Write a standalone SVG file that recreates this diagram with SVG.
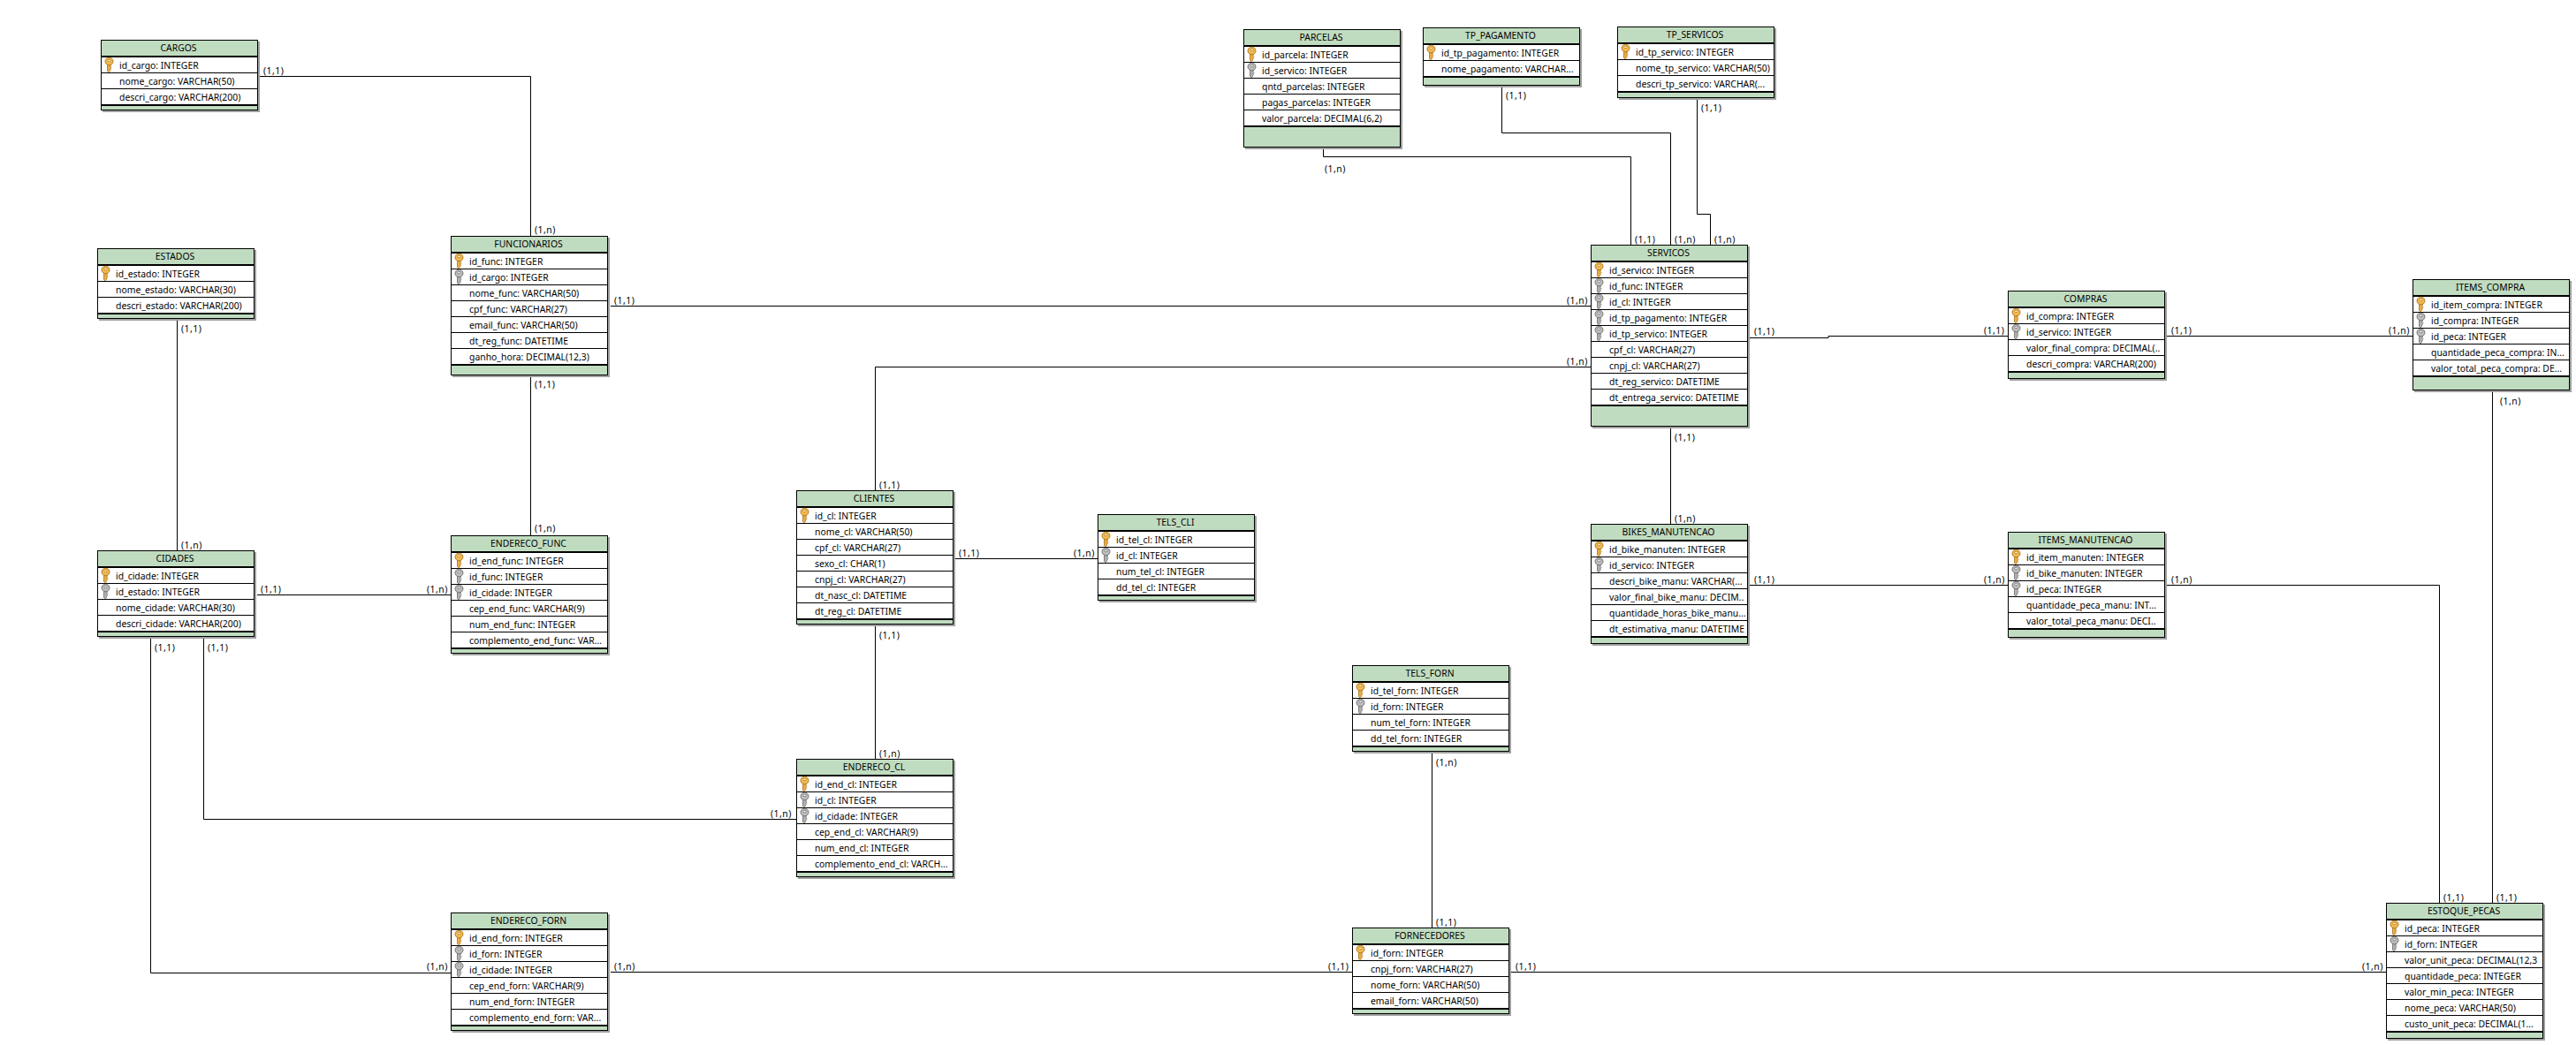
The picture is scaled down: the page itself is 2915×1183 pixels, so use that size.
<svg xmlns="http://www.w3.org/2000/svg" width="2915" height="1183" viewBox="0 0 2915 1183">
<style>
text{font-family:"Noto Sans","Liberation Sans",sans-serif;font-size:10.4px;fill:#000}
#labels text{letter-spacing:.5px}
.h{text-anchor:middle}
.r{clip-path:url(#c)}
.s{fill:#a0a0a0}
.b{fill:#fff;stroke:#000}
.g{fill:#c0dcc0;stroke:#000}
.t{stroke:#000;stroke-width:2;fill:none}
.d{stroke:#000;stroke-width:1;fill:none}
#connectors path{fill:none;stroke:#000;stroke-width:1}
</style>
<defs>
<clipPath id="c"><rect x="0" y="0" width="176" height="300"/></clipPath>
<g id="pk"><path transform="translate(1,0)" d="M2.500 7.500h4l-.5 3 1 1-1 1 .5 1-1 1v1l-1 1h-1l-1-1z" fill="#e8ac48" stroke="#a87418" stroke-width=".8"/><ellipse cx="5.500" cy="4.500" rx="4.500" ry="4.300" fill="#f2b850" stroke="#a87418" stroke-width=".9"/><ellipse cx="5.500" cy="3.400" rx="2" ry="1.200" fill="#fff0c8" stroke="#a87418" stroke-width=".7"/></g>
<g id="fk"><path transform="translate(1,0)" d="M2.500 7.500h4l-.5 3 1 1-1 1 .5 1-1 1v1l-1 1h-1l-1-1z" fill="#b0b0b0" stroke="#6a6a6a" stroke-width=".8"/><ellipse cx="5.500" cy="4.500" rx="4.500" ry="4.300" fill="#bcbcbc" stroke="#6a6a6a" stroke-width=".9"/><ellipse cx="5.500" cy="3.400" rx="2" ry="1.200" fill="#eeeeee" stroke="#6a6a6a" stroke-width=".7"/></g>
</defs>
<rect width="2915" height="1183" fill="#fff"/>
<g id="connectors">
<path d="M293 86.500H600.500V267"/>
<path d="M600.500 426V606"/>
<path d="M200.500 362V623"/>
<path d="M291 673.500H510"/>
<path d="M170.500 723V1101.500H510"/>
<path d="M230.500 723V927.500H901"/>
<path d="M691 346.500H1800"/>
<path d="M1800 415.500H990.500V555"/>
<path d="M990.500 709V859"/>
<path d="M1080 632.500H1242"/>
<path d="M1497.500 168V177.500H1845.500V277"/>
<path d="M1699.500 98V150.500H1890.500V277"/>
<path d="M1920.500 112V242.500H1935.500V277"/>
<path d="M1890.500 485V593"/>
<path d="M1980 382.500H2069V380.500H2272"/>
<path d="M2452 380.500H2730"/>
<path d="M1980 662.500H2272"/>
<path d="M2452 662.500H2760.500V1022"/>
<path d="M2820.500 444V1022"/>
<path d="M1620.500 853V1050"/>
<path d="M691 1100.500H1530"/>
<path d="M1710 1100.500H2700"/>
</g>
<g id="labels">
<text x="298" y="84">(1,1)</text>
<text x="605" y="264">(1,n)</text>
<text x="605" y="439">(1,1)</text>
<text x="605" y="602">(1,n)</text>
<text x="205" y="376">(1,1)</text>
<text x="205" y="621">(1,n)</text>
<text x="295" y="671">(1,1)</text>
<text x="483" y="671">(1,n)</text>
<text x="175" y="737">(1,1)</text>
<text x="235" y="737">(1,1)</text>
<text x="483" y="1098">(1,n)</text>
<text x="695" y="1098">(1,n)</text>
<text x="695" y="344">(1,1)</text>
<text x="1773" y="344">(1,n)</text>
<text x="1773" y="413">(1,n)</text>
<text x="995" y="553">(1,1)</text>
<text x="995" y="723">(1,1)</text>
<text x="995" y="857">(1,n)</text>
<text x="872" y="925">(1,n)</text>
<text x="1085" y="630">(1,1)</text>
<text x="1215" y="630">(1,n)</text>
<text x="1499" y="195">(1,n)</text>
<text x="1704" y="112">(1,1)</text>
<text x="1925" y="126">(1,1)</text>
<text x="1850" y="275">(1,1)</text>
<text x="1895" y="275">(1,n)</text>
<text x="1940" y="275">(1,n)</text>
<text x="1985" y="379">(1,1)</text>
<text x="2245" y="378">(1,1)</text>
<text x="2457" y="378">(1,1)</text>
<text x="2703" y="378">(1,n)</text>
<text x="2829" y="458">(1,n)</text>
<text x="1895" y="499">(1,1)</text>
<text x="1895" y="591">(1,n)</text>
<text x="1985" y="660">(1,1)</text>
<text x="2245" y="660">(1,n)</text>
<text x="2457" y="660">(1,n)</text>
<text x="1625" y="867">(1,n)</text>
<text x="1625" y="1048">(1,1)</text>
<text x="1503" y="1098">(1,1)</text>
<text x="1715" y="1098">(1,1)</text>
<text x="2673" y="1098">(1,n)</text>
<text x="2765" y="1020">(1,1)</text>
<text x="2825" y="1020">(1,1)</text>
</g>
<g id="CARGOS" transform="translate(114,45)"><rect class="s" x="2" y="2" width="178" height="80"/><rect class="b" x=".5" y=".5" width="177" height="79"/><rect class="g" x=".5" y=".5" width="177" height="18"/><rect class="g" x=".5" y="73.500" width="177" height="6"/><path class="t" d="M0 19H178M0 74H178"/><path class="d" d="M0 37.500H178M0 55.500H178"/><text class="h" x="88" y="13">CARGOS</text><use href="#pk" x="4" y="20"/><text class="r" x="21" y="33">id_cargo: INTEGER</text><text class="r" x="21" y="51">nome_cargo: VARCHAR(50)</text><text class="r" x="21" y="69">descri_cargo: VARCHAR(200)</text></g>
<g id="ESTADOS" transform="translate(110,281)"><rect class="s" x="2" y="2" width="178" height="80"/><rect class="b" x=".5" y=".5" width="177" height="79"/><rect class="g" x=".5" y=".5" width="177" height="18"/><rect class="g" x=".5" y="73.500" width="177" height="6"/><path class="t" d="M0 19H178M0 74H178"/><path class="d" d="M0 37.500H178M0 55.500H178"/><text class="h" x="88" y="13">ESTADOS</text><use href="#pk" x="4" y="20"/><text class="r" x="21" y="33">id_estado: INTEGER</text><text class="r" x="21" y="51">nome_estado: VARCHAR(30)</text><text class="r" x="21" y="69">descri_estado: VARCHAR(200)</text></g>
<g id="CIDADES" transform="translate(110,623)"><rect class="s" x="2" y="2" width="178" height="98"/><rect class="b" x=".5" y=".5" width="177" height="97"/><rect class="g" x=".5" y=".5" width="177" height="18"/><rect class="g" x=".5" y="91.500" width="177" height="6"/><path class="t" d="M0 19H178M0 92H178"/><path class="d" d="M0 37.500H178M0 55.500H178M0 73.500H178"/><text class="h" x="88" y="13">CIDADES</text><use href="#pk" x="4" y="20"/><use href="#fk" x="4" y="38"/><text class="r" x="21" y="33">id_cidade: INTEGER</text><text class="r" x="21" y="51">id_estado: INTEGER</text><text class="r" x="21" y="69">nome_cidade: VARCHAR(30)</text><text class="r" x="21" y="87">descri_cidade: VARCHAR(200)</text></g>
<g id="FUNCIONARIOS" transform="translate(510,267)"><rect class="s" x="2" y="2" width="178" height="158"/><rect class="b" x=".5" y=".5" width="177" height="157"/><rect class="g" x=".5" y=".5" width="177" height="18"/><rect class="g" x=".5" y="145.500" width="177" height="12"/><path class="t" d="M0 19H178M0 146H178"/><path class="d" d="M0 37.500H178M0 55.500H178M0 73.500H178M0 91.500H178M0 109.500H178M0 127.500H178"/><text class="h" x="88" y="13">FUNCIONARIOS</text><use href="#pk" x="4" y="20"/><use href="#fk" x="4" y="38"/><text class="r" x="21" y="33">id_func: INTEGER</text><text class="r" x="21" y="51">id_cargo: INTEGER</text><text class="r" x="21" y="69">nome_func: VARCHAR(50)</text><text class="r" x="21" y="87">cpf_func: VARCHAR(27)</text><text class="r" x="21" y="105">email_func: VARCHAR(50)</text><text class="r" x="21" y="123">dt_reg_func: DATETIME</text><text class="r" x="21" y="141">ganho_hora: DECIMAL(12,3)</text></g>
<g id="ENDERECO_FUNC" transform="translate(510,606)"><rect class="s" x="2" y="2" width="178" height="134"/><rect class="b" x=".5" y=".5" width="177" height="133"/><rect class="g" x=".5" y=".5" width="177" height="18"/><rect class="g" x=".5" y="127.500" width="177" height="6"/><path class="t" d="M0 19H178M0 128H178"/><path class="d" d="M0 37.500H178M0 55.500H178M0 73.500H178M0 91.500H178M0 109.500H178"/><text class="h" x="88" y="13">ENDERECO_FUNC</text><use href="#pk" x="4" y="20"/><use href="#fk" x="4" y="38"/><use href="#fk" x="4" y="56"/><text class="r" x="21" y="33">id_end_func: INTEGER</text><text class="r" x="21" y="51">id_func: INTEGER</text><text class="r" x="21" y="69">id_cidade: INTEGER</text><text class="r" x="21" y="87">cep_end_func: VARCHAR(9)</text><text class="r" x="21" y="105">num_end_func: INTEGER</text><text class="r" x="21" y="123">complemento_end_func: VAR...</text></g>
<g id="ENDERECO_FORN" transform="translate(510,1033)"><rect class="s" x="2" y="2" width="178" height="134"/><rect class="b" x=".5" y=".5" width="177" height="133"/><rect class="g" x=".5" y=".5" width="177" height="18"/><rect class="g" x=".5" y="127.500" width="177" height="6"/><path class="t" d="M0 19H178M0 128H178"/><path class="d" d="M0 37.500H178M0 55.500H178M0 73.500H178M0 91.500H178M0 109.500H178"/><text class="h" x="88" y="13">ENDERECO_FORN</text><use href="#pk" x="4" y="20"/><use href="#fk" x="4" y="38"/><use href="#fk" x="4" y="56"/><text class="r" x="21" y="33">id_end_forn: INTEGER</text><text class="r" x="21" y="51">id_forn: INTEGER</text><text class="r" x="21" y="69">id_cidade: INTEGER</text><text class="r" x="21" y="87">cep_end_forn: VARCHAR(9)</text><text class="r" x="21" y="105">num_end_forn: INTEGER</text><text class="r" x="21" y="123">complemento_end_forn: VAR...</text></g>
<g id="CLIENTES" transform="translate(901,555)"><rect class="s" x="2" y="2" width="178" height="152"/><rect class="b" x=".5" y=".5" width="177" height="151"/><rect class="g" x=".5" y=".5" width="177" height="18"/><rect class="g" x=".5" y="145.500" width="177" height="6"/><path class="t" d="M0 19H178M0 146H178"/><path class="d" d="M0 37.500H178M0 55.500H178M0 73.500H178M0 91.500H178M0 109.500H178M0 127.500H178"/><text class="h" x="88" y="13">CLIENTES</text><use href="#pk" x="4" y="20"/><text class="r" x="21" y="33">id_cl: INTEGER</text><text class="r" x="21" y="51">nome_cl: VARCHAR(50)</text><text class="r" x="21" y="69">cpf_cl: VARCHAR(27)</text><text class="r" x="21" y="87">sexo_cl: CHAR(1)</text><text class="r" x="21" y="105">cnpj_cl: VARCHAR(27)</text><text class="r" x="21" y="123">dt_nasc_cl: DATETIME</text><text class="r" x="21" y="141">dt_reg_cl: DATETIME</text></g>
<g id="ENDERECO_CL" transform="translate(901,859)"><rect class="s" x="2" y="2" width="178" height="134"/><rect class="b" x=".5" y=".5" width="177" height="133"/><rect class="g" x=".5" y=".5" width="177" height="18"/><rect class="g" x=".5" y="127.500" width="177" height="6"/><path class="t" d="M0 19H178M0 128H178"/><path class="d" d="M0 37.500H178M0 55.500H178M0 73.500H178M0 91.500H178M0 109.500H178"/><text class="h" x="88" y="13">ENDERECO_CL</text><use href="#pk" x="4" y="20"/><use href="#fk" x="4" y="38"/><use href="#fk" x="4" y="56"/><text class="r" x="21" y="33">id_end_cl: INTEGER</text><text class="r" x="21" y="51">id_cl: INTEGER</text><text class="r" x="21" y="69">id_cidade: INTEGER</text><text class="r" x="21" y="87">cep_end_cl: VARCHAR(9)</text><text class="r" x="21" y="105">num_end_cl: INTEGER</text><text class="r" x="21" y="123">complemento_end_cl: VARCH...</text></g>
<g id="TELS_CLI" transform="translate(1242,582)"><rect class="s" x="2" y="2" width="178" height="98"/><rect class="b" x=".5" y=".5" width="177" height="97"/><rect class="g" x=".5" y=".5" width="177" height="18"/><rect class="g" x=".5" y="91.500" width="177" height="6"/><path class="t" d="M0 19H178M0 92H178"/><path class="d" d="M0 37.500H178M0 55.500H178M0 73.500H178"/><text class="h" x="88" y="13">TELS_CLI</text><use href="#pk" x="4" y="20"/><use href="#fk" x="4" y="38"/><text class="r" x="21" y="33">id_tel_cl: INTEGER</text><text class="r" x="21" y="51">id_cl: INTEGER</text><text class="r" x="21" y="69">num_tel_cl: INTEGER</text><text class="r" x="21" y="87">dd_tel_cl: INTEGER</text></g>
<g id="PARCELAS" transform="translate(1407,33)"><rect class="s" x="2" y="2" width="178" height="134"/><rect class="b" x=".5" y=".5" width="177" height="133"/><rect class="g" x=".5" y=".5" width="177" height="18"/><rect class="g" x=".5" y="109.500" width="177" height="24"/><path class="t" d="M0 19H178M0 110H178"/><path class="d" d="M0 37.500H178M0 55.500H178M0 73.500H178M0 91.500H178"/><text class="h" x="88" y="13">PARCELAS</text><use href="#pk" x="4" y="20"/><use href="#fk" x="4" y="38"/><text class="r" x="21" y="33">id_parcela: INTEGER</text><text class="r" x="21" y="51">id_servico: INTEGER</text><text class="r" x="21" y="69">qntd_parcelas: INTEGER</text><text class="r" x="21" y="87">pagas_parcelas: INTEGER</text><text class="r" x="21" y="105">valor_parcela: DECIMAL(6,2)</text></g>
<g id="TP_PAGAMENTO" transform="translate(1610,31)"><rect class="s" x="2" y="2" width="178" height="66"/><rect class="b" x=".5" y=".5" width="177" height="65"/><rect class="g" x=".5" y=".5" width="177" height="18"/><rect class="g" x=".5" y="55.500" width="177" height="10"/><path class="t" d="M0 19H178M0 56H178"/><path class="d" d="M0 37.500H178"/><text class="h" x="88" y="13">TP_PAGAMENTO</text><use href="#pk" x="4" y="20"/><text class="r" x="21" y="33">id_tp_pagamento: INTEGER</text><text class="r" x="21" y="51">nome_pagamento: VARCHAR...</text></g>
<g id="TP_SERVICOS" transform="translate(1830,30)"><rect class="s" x="2" y="2" width="178" height="81"/><rect class="b" x=".5" y=".5" width="177" height="80"/><rect class="g" x=".5" y=".5" width="177" height="18"/><rect class="g" x=".5" y="73.500" width="177" height="7"/><path class="t" d="M0 19H178M0 74H178"/><path class="d" d="M0 37.500H178M0 55.500H178"/><text class="h" x="88" y="13">TP_SERVICOS</text><use href="#pk" x="4" y="20"/><text class="r" x="21" y="33">id_tp_servico: INTEGER</text><text class="r" x="21" y="51">nome_tp_servico: VARCHAR(50)</text><text class="r" x="21" y="69">descri_tp_servico: VARCHAR(...</text></g>
<g id="SERVICOS" transform="translate(1800,277)"><rect class="s" x="2" y="2" width="178" height="206"/><rect class="b" x=".5" y=".5" width="177" height="205"/><rect class="g" x=".5" y=".5" width="177" height="18"/><rect class="g" x=".5" y="181.500" width="177" height="24"/><path class="t" d="M0 19H178M0 182H178"/><path class="d" d="M0 37.500H178M0 55.500H178M0 73.500H178M0 91.500H178M0 109.500H178M0 127.500H178M0 145.500H178M0 163.500H178"/><text class="h" x="88" y="13">SERVICOS</text><use href="#pk" x="4" y="20"/><use href="#fk" x="4" y="38"/><use href="#fk" x="4" y="56"/><use href="#fk" x="4" y="74"/><use href="#fk" x="4" y="92"/><text class="r" x="21" y="33">id_servico: INTEGER</text><text class="r" x="21" y="51">id_func: INTEGER</text><text class="r" x="21" y="69">id_cl: INTEGER</text><text class="r" x="21" y="87">id_tp_pagamento: INTEGER</text><text class="r" x="21" y="105">id_tp_servico: INTEGER</text><text class="r" x="21" y="123">cpf_cl: VARCHAR(27)</text><text class="r" x="21" y="141">cnpj_cl: VARCHAR(27)</text><text class="r" x="21" y="159">dt_reg_servico: DATETIME</text><text class="r" x="21" y="177">dt_entrega_servico: DATETIME</text></g>
<g id="BIKES_MANUTENCAO" transform="translate(1800,593)"><rect class="s" x="2" y="2" width="178" height="136"/><rect class="b" x=".5" y=".5" width="177" height="135"/><rect class="g" x=".5" y=".5" width="177" height="18"/><rect class="g" x=".5" y="127.500" width="177" height="8"/><path class="t" d="M0 19H178M0 128H178"/><path class="d" d="M0 37.500H178M0 55.500H178M0 73.500H178M0 91.500H178M0 109.500H178"/><text class="h" x="88" y="13">BIKES_MANUTENCAO</text><use href="#pk" x="4" y="20"/><use href="#fk" x="4" y="38"/><text class="r" x="21" y="33">id_bike_manuten: INTEGER</text><text class="r" x="21" y="51">id_servico: INTEGER</text><text class="r" x="21" y="69">descri_bike_manu: VARCHAR(...</text><text class="r" x="21" y="87">valor_final_bike_manu: DECIM..</text><text class="r" x="21" y="105">quantidade_horas_bike_manu...</text><text class="r" x="21" y="123">dt_estimativa_manu: DATETIME</text></g>
<g id="COMPRAS" transform="translate(2272,329)"><rect class="s" x="2" y="2" width="178" height="100"/><rect class="b" x=".5" y=".5" width="177" height="99"/><rect class="g" x=".5" y=".5" width="177" height="18"/><rect class="g" x=".5" y="91.500" width="177" height="8"/><path class="t" d="M0 19H178M0 92H178"/><path class="d" d="M0 37.500H178M0 55.500H178M0 73.500H178"/><text class="h" x="88" y="13">COMPRAS</text><use href="#pk" x="4" y="20"/><use href="#fk" x="4" y="38"/><text class="r" x="21" y="33">id_compra: INTEGER</text><text class="r" x="21" y="51">id_servico: INTEGER</text><text class="r" x="21" y="69">valor_final_compra: DECIMAL(..</text><text class="r" x="21" y="87">descri_compra: VARCHAR(200)</text></g>
<g id="ITEMS_MANUTENCAO" transform="translate(2272,602)"><rect class="s" x="2" y="2" width="178" height="120"/><rect class="b" x=".5" y=".5" width="177" height="119"/><rect class="g" x=".5" y=".5" width="177" height="18"/><rect class="g" x=".5" y="109.500" width="177" height="10"/><path class="t" d="M0 19H178M0 110H178"/><path class="d" d="M0 37.500H178M0 55.500H178M0 73.500H178M0 91.500H178"/><text class="h" x="88" y="13">ITEMS_MANUTENCAO</text><use href="#pk" x="4" y="20"/><use href="#fk" x="4" y="38"/><use href="#fk" x="4" y="56"/><text class="r" x="21" y="33">id_item_manuten: INTEGER</text><text class="r" x="21" y="51">id_bike_manuten: INTEGER</text><text class="r" x="21" y="69">id_peca: INTEGER</text><text class="r" x="21" y="87">quantidade_peca_manu: INT...</text><text class="r" x="21" y="105">valor_total_peca_manu: DECI..</text></g>
<g id="ITEMS_COMPRA" transform="translate(2730,316)"><rect class="s" x="2" y="2" width="178" height="126"/><rect class="b" x=".5" y=".5" width="177" height="125"/><rect class="g" x=".5" y=".5" width="177" height="18"/><rect class="g" x=".5" y="109.500" width="177" height="16"/><path class="t" d="M0 19H178M0 110H178"/><path class="d" d="M0 37.500H178M0 55.500H178M0 73.500H178M0 91.500H178"/><text class="h" x="88" y="13">ITEMS_COMPRA</text><use href="#pk" x="4" y="20"/><use href="#fk" x="4" y="38"/><use href="#fk" x="4" y="56"/><text class="r" x="21" y="33">id_item_compra: INTEGER</text><text class="r" x="21" y="51">id_compra: INTEGER</text><text class="r" x="21" y="69">id_peca: INTEGER</text><text class="r" x="21" y="87">quantidade_peca_compra: IN...</text><text class="r" x="21" y="105">valor_total_peca_compra: DE...</text></g>
<g id="TELS_FORN" transform="translate(1530,753)"><rect class="s" x="2" y="2" width="178" height="98"/><rect class="b" x=".5" y=".5" width="177" height="97"/><rect class="g" x=".5" y=".5" width="177" height="18"/><rect class="g" x=".5" y="91.500" width="177" height="6"/><path class="t" d="M0 19H178M0 92H178"/><path class="d" d="M0 37.500H178M0 55.500H178M0 73.500H178"/><text class="h" x="88" y="13">TELS_FORN</text><use href="#pk" x="4" y="20"/><use href="#fk" x="4" y="38"/><text class="r" x="21" y="33">id_tel_forn: INTEGER</text><text class="r" x="21" y="51">id_forn: INTEGER</text><text class="r" x="21" y="69">num_tel_forn: INTEGER</text><text class="r" x="21" y="87">dd_tel_forn: INTEGER</text></g>
<g id="FORNECEDORES" transform="translate(1530,1050)"><rect class="s" x="2" y="2" width="178" height="98"/><rect class="b" x=".5" y=".5" width="177" height="97"/><rect class="g" x=".5" y=".5" width="177" height="18"/><rect class="g" x=".5" y="91.500" width="177" height="6"/><path class="t" d="M0 19H178M0 92H178"/><path class="d" d="M0 37.500H178M0 55.500H178M0 73.500H178"/><text class="h" x="88" y="13">FORNECEDORES</text><use href="#pk" x="4" y="20"/><text class="r" x="21" y="33">id_forn: INTEGER</text><text class="r" x="21" y="51">cnpj_forn: VARCHAR(27)</text><text class="r" x="21" y="69">nome_forn: VARCHAR(50)</text><text class="r" x="21" y="87">email_forn: VARCHAR(50)</text></g>
<g id="ESTOQUE_PECAS" transform="translate(2700,1022)"><rect class="s" x="2" y="2" width="178" height="154"/><rect class="b" x=".5" y=".5" width="177" height="153"/><rect class="g" x=".5" y=".5" width="177" height="18"/><rect class="g" x=".5" y="145.500" width="177" height="8"/><path class="t" d="M0 19H178M0 146H178"/><path class="d" d="M0 37.500H178M0 55.500H178M0 73.500H178M0 91.500H178M0 109.500H178M0 127.500H178"/><text class="h" x="88" y="13">ESTOQUE_PECAS</text><use href="#pk" x="4" y="20"/><use href="#fk" x="4" y="38"/><text class="r" x="21" y="33">id_peca: INTEGER</text><text class="r" x="21" y="51">id_forn: INTEGER</text><text class="r" x="21" y="69">valor_unit_peca: DECIMAL(12,3</text><text class="r" x="21" y="87">quantidade_peca: INTEGER</text><text class="r" x="21" y="105">valor_min_peca: INTEGER</text><text class="r" x="21" y="123">nome_peca: VARCHAR(50)</text><text class="r" x="21" y="141">custo_unit_peca: DECIMAL(1...</text></g>
</svg>
